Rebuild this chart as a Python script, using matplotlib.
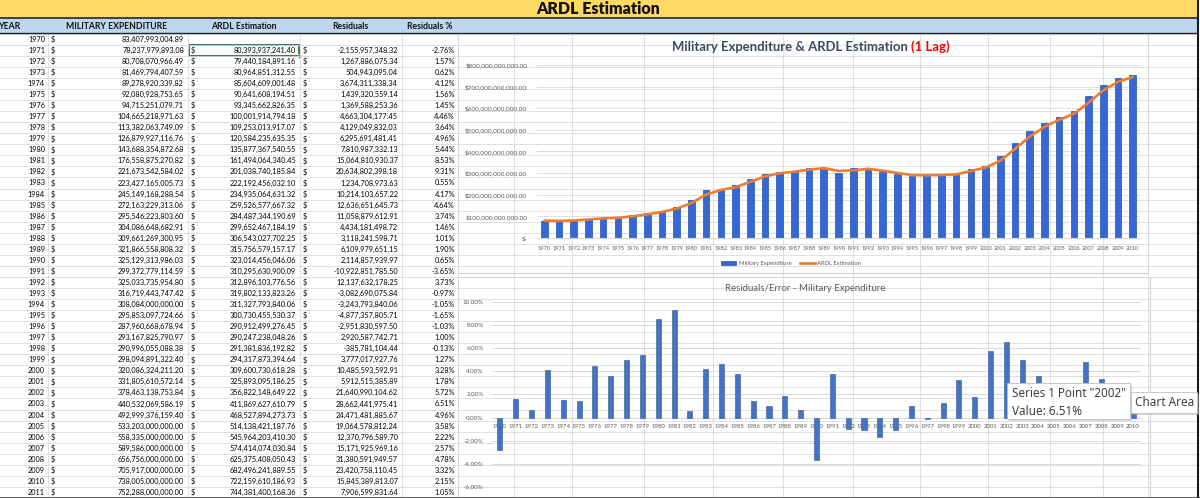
import matplotlib
matplotlib.use('Agg')
import matplotlib.pyplot as plt
from matplotlib.patches import Rectangle
from matplotlib.lines import Line2D
from matplotlib.ticker import FuncFormatter, MultipleLocator

plt.rcParams['font.family'] = ['Lato', 'DejaVu Sans']

# ---- data (read from the sheet) ----
years = [1970, 1971, 1972, 1973, 1974, 1975, 1976, 1977, 1978, 1979,
         1980, 1981, 1982, 1983, 1984, 1985, 1986, 1987, 1988, 1989,
         1990, 1991, 1992, 1993, 1994, 1995, 1996, 1997, 1998, 1999,
         2000, 2001, 2002, 2003, 2004, 2005, 2006, 2007, 2008, 2009,
         2010, 2011]

military = [83407993004.89, 78237979893.08, 80708070966.49, 81469794407.59,
            89278920339.82, 92080928753.65, 94715251079.71, 104665218971.63,
            113382063749.09, 126879927116.76, 143688354872.68, 176558875270.82,
            221673542584.02, 223427165005.73, 245149168288.54, 272163229313.06,
            295546223803.60, 304086648682.91, 309661269300.95, 321866558808.32,
            325129313986.03, 299372779114.59, 325033735954.80, 316719443747.42,
            308084000000.00, 295853097724.66, 287960668678.94, 293167825790.97,
            290996055088.38, 298094891322.40, 320086324211.20, 331805610572.14,
            378463138753.84, 440532069586.19, 492999376159.40, 533203000000.00,
            558335000000.00, 589586000000.00, 656756000000.00, 705917000000.00,
            738005000000.00, 752288000000.00]

# ARDL estimation, residuals, residual % start in 1971
ardl = [80393937241.40, 79440184891.16, 80964851312.55, 85604609001.48,
        90641608194.51, 93345662826.35, 100001914794.18, 109253013917.07,
        120584235635.35, 135877367540.55, 161494064340.45, 201038740185.84,
        222192456032.10, 234935064631.32, 259526577667.32, 284487344190.69,
        299652467184.19, 306543027702.25, 315756579157.17, 323014456046.06,
        310295630900.09, 312896103776.56, 319802133823.26, 311327793840.06,
        300730455530.37, 290912499276.45, 290247238048.26, 291381836192.82,
        294317873394.64, 309600730618.28, 325893095186.25, 356822148649.22,
        411869627610.79, 468527894273.73, 514138421187.76, 545964203410.30,
        574414074030.84, 625375408050.43, 682496241889.55, 722159610186.93,
        744381400168.36]

residuals = [-2155957348.32, 1267886075.34, 504943095.04, 3674311338.34,
             1439320559.14, 1369588253.36, 4663304177.45, 4129049832.03,
             6295691481.41, 7810987332.13, 15064810930.37, 20634802398.18,
             1234708973.63, 10214103657.22, 12636651645.73, 11058879612.91,
             4434181498.72, 3118241598.71, 6109979651.15, 2114857939.97,
             -10922851785.50, 12137632178.25, -3082690075.84, -3243793840.06,
             -4877357805.71, -2951830597.50, 2920587742.71, -385781104.44,
             3777017927.76, 10485593592.91, 5912515385.89, 21640990104.62,
             28662441975.41, 24471481885.67, 19064578812.24, 12370796589.70,
             15171925969.16, 31380591949.57, 23420758110.45, 15845389813.07,
             7906599831.64]

residuals_pct = [-2.76, 1.57, 0.62, 4.12, 1.56, 1.45, 4.46, 3.64, 4.96, 5.44,
                 8.53, 9.31, 0.55, 4.17, 4.64, 3.74, 1.46, 1.01, 1.90, 0.65,
                 -3.65, 3.73, -0.97, -1.05, -1.65, -1.03, 1.00, -0.13, 1.27, 3.28,
                 1.78, 5.72, 6.51, 4.96, 3.58, 2.22, 2.57, 4.78, 3.32, 2.15, 1.05]

# the charts label the 1971-2011 rows as 1970-2010
chart_labels = [str(y) for y in years[:-1]]

W, H = 1200, 498
fig = plt.figure(figsize=(12, 4.98), dpi=100)
bg = fig.add_axes([0, 0, 1, 1])
bg.set_xlim(0, W)
bg.set_ylim(H, 0)
bg.axis('off')
renderer = fig.canvas.get_renderer()


def px_axes(l, t, r, b):
    return fig.add_axes([l / W, 1 - b / H, (r - l) / W, (b - t) / H])


def fit_size(sample, width_px, **kw):
    # font size that makes `sample` about width_px wide
    t = bg.text(0, 0, sample, fontsize=10, **kw)
    w = t.get_window_extent(renderer=renderer).width
    t.remove()
    return 10 * width_px / w


# ---- spreadsheet background ----
ROW_TOP, ROW_H = 33.8, 11.05
GRID = '#DADADA'
for k in range(len(years) + 1):
    y = ROW_TOP + k * ROW_H
    bg.plot([0, 1197], [y, y], color=GRID, lw=0.6)
for x in [48, 188, 300, 402, 458, 514, 572, 644, 713, 783, 853, 920, 988,
          1050, 1103, 1148]:
    bg.plot([x, x], [32.5, H], color=GRID, lw=0.6)

bg.add_patch(Rectangle((0, 0), 1197, 17.5, fc='#FFD966', ec='none'))
bg.add_patch(Rectangle((0, 18), 1197, 14.5, fc='#BDD7EE', ec='none'))
bg.plot([0, 1197], [17.8, 17.8], color='#262626', lw=1.2)
bg.plot([0, 1197], [32.5, 32.5], color='#262626', lw=1.0)
bg.plot([1197.8, 1197.8], [0, H], color='#1a1a1a', lw=1.5)
bg.plot([0, W], [497.5, 497.5], color='#404040', lw=1.2)

fs_title = fit_size('ARDL Estimation', 124, fontweight='heavy')
bg.text(598, 9, 'ARDL Estimation', fontsize=fs_title, fontweight='heavy',
        ha='center', va='center', color='#111111')
fs_hdr = fit_size('MILITARY EXPENDITURE', 101, fontweight='bold')
hdr = dict(fontsize=fs_hdr, fontweight='bold', va='center', color='#111111')
bg.text(20, 26, 'YEAR', ha='right', **hdr)
bg.text(117, 26, 'MILITARY EXPENDITURE', ha='center', **hdr)
bg.text(244, 26, 'ARDL Estimation', ha='center', **hdr)
bg.text(350, 26, 'Residuals', ha='center', **hdr)
bg.text(430, 26, 'Residuals %', ha='center', **hdr)

fs_cell = fit_size('83,407,993,004.89', 62)
cell = dict(fontsize=fs_cell, va='center', color='#000000')
for i, yr in enumerate(years):
    yc = ROW_TOP + (i + 0.5) * ROW_H
    bg.text(45, yc, str(yr), ha='right', **cell)
    bg.text(51, yc, '$', ha='left', **cell)
    bg.text(184, yc, f'{military[i]:,.2f}', ha='right', **cell)
    if i > 0:
        j = i - 1
        bg.text(191, yc, '$', ha='left', **cell)
        bg.text(296, yc, f'{ardl[j]:,.2f}', ha='right', **cell)
        bg.text(303, yc, '$', ha='left', **cell)
        bg.text(398, yc, f'{residuals[j]:,.2f}', ha='right', **cell)
        bg.text(455, yc, f'{residuals_pct[j]:.2f}%', ha='right', **cell)

# selected cell
sel_top = ROW_TOP + ROW_H
bg.add_patch(Rectangle((188.5, sel_top), 110.5, ROW_H, fc='none', ec='#217346', lw=1.3))
bg.add_patch(Rectangle((297.5, sel_top + ROW_H - 1.5), 3.5, 3.5, fc='#217346', ec='white', lw=0.4))

# chart areas
bg.add_patch(Rectangle((458, 32.5), 690, 240, fc='white', ec='#D0D0D0', lw=0.8))
bg.add_patch(Rectangle((458, 276.5), 692, 230, fc='white', ec='#D0D0D0', lw=0.8))

# ---- top chart ----
ax1 = px_axes(537, 65, 1140, 238)
ax1.set_facecolor('none')
xs = list(range(len(chart_labels)))
ax1.bar(xs, military[1:], width=0.45, color='#3568D4', edgecolor='#1F4FB5',
        lw=0.5, zorder=2)
ax1.plot(xs, ardl, color='#ED7D31', lw=1.9, zorder=3, solid_capstyle='round')
ax1.set_xlim(-0.5, len(xs) - 0.5)
ax1.set_ylim(0, 800e9)
ax1.yaxis.set_major_locator(MultipleLocator(100e9))
ax1.yaxis.set_major_formatter(FuncFormatter(lambda v, p: '$-' if v == 0 else f'${v:,.2f}'))
ax1.set_xticks(xs)
ax1.set_xticklabels(chart_labels)
ax1.grid(axis='y', color='#D9D9D9', lw=0.6, zorder=0)
ax1.set_axisbelow(True)
for s in ['top', 'right', 'left']:
    ax1.spines[s].set_visible(False)
ax1.spines['bottom'].set_color('#D9D9D9')
fs_ylab1 = fit_size('$800,000,000,000.00', 61)
fs_xlab1 = fit_size('1970', 13.2)
ax1.tick_params(axis='both', length=0, colors='#595959')
ax1.tick_params(axis='y', pad=7, labelsize=fs_ylab1)
ax1.tick_params(axis='x', pad=5.5, labelsize=fs_xlab1)

title_a = 'Military Expenditure & ARDL Estimation '
fs_t1 = fit_size(title_a + '(1 Lag)', 278, fontweight='bold')
t1 = bg.text(672, 47, title_a, fontsize=fs_t1, fontweight='bold',
             color='#3B4A5E', ha='left', va='center')
bb = t1.get_window_extent(renderer=renderer)
x_end = bg.transData.inverted().transform((bb.x1, bb.y0))[0]
bg.text(x_end, 47, '(1 Lag)', fontsize=fs_t1, fontweight='bold', color='#FF0000',
        ha='left', va='center')

fs_leg = fit_size('Military Expenditure', 53)
leg_handles = [Rectangle((0, 0), 1, 1, fc='#3568D4', ec='#1F4FB5', lw=0.5),
               Line2D([0], [0], color='#ED7D31', lw=1.9)]
ax1.legend(leg_handles, ['Military Expenditure', 'ARDL Estimation'], loc='center',
           bbox_to_anchor=(791 / W, 1 - 263.5 / H), bbox_transform=fig.transFigure,
           ncol=2, frameon=False, fontsize=fs_leg, handlelength=2.6, handleheight=0.5,
           handletextpad=0.4, columnspacing=1.4, labelcolor='#595959')

# ---- bottom chart ----
ax2 = px_axes(492, 302, 1141, 487)
ax2.set_facecolor('none')
ax2.bar(xs, residuals_pct, width=0.32, color='#4472C4', edgecolor='#2F5597',
        lw=0.4, zorder=3)
ax2.set_xlim(-0.5, len(xs) - 0.5)
ax2.set_ylim(-6, 10)
ax2.yaxis.set_major_locator(MultipleLocator(2))
ax2.yaxis.set_major_formatter(FuncFormatter(lambda v, p: f'{v:.2f}%'))
ax2.set_xticks(xs)
ax2.set_xticklabels(chart_labels)
ax2.grid(axis='y', color='#D9D9D9', lw=0.7, zorder=0)
ax2.set_axisbelow(True)
for s in ['top', 'right', 'left']:
    ax2.spines[s].set_visible(False)
ax2.spines['bottom'].set_position(('data', 0))
ax2.spines['bottom'].set_color('#D9D9D9')
fs_ylab2 = fit_size('10.00%', 21)
fs_xlab2 = fit_size('1970', 13.8)
ax2.tick_params(axis='both', length=0, colors='#595959')
ax2.tick_params(axis='y', pad=6, labelsize=fs_ylab2)
ax2.tick_params(axis='x', pad=4.5, labelsize=fs_xlab2)

fs_t2 = fit_size('Residuals/Error - Military Expenditure', 160)
bg.text(805, 288, 'Residuals/Error - Military Expenditure', fontsize=fs_t2,
        color='#595959', ha='center', va='center')

# ---- hover tooltips ----
tip = dict(transform=bg.transData)
tip_font = ['Noto Sans', 'DejaVu Sans']
fs_tip = fit_size('Series 1 Point "2002"', 114, family=tip_font)
fig.add_artist(Rectangle((1009, 385), 123, 36, fc='#B0B0B0', ec='none', alpha=0.5, zorder=5, **tip))
fig.add_artist(Rectangle((1007, 383), 123, 36, fc='white', ec='#BFBFBF', lw=0.6, zorder=6, **tip))
fig.text(1012, 393, 'Series 1 Point "2002"', fontsize=fs_tip, color='#404040',
         va='center', ha='left', family=tip_font, zorder=7, **tip)
fig.text(1012, 411, 'Value: 6.51%', fontsize=fs_tip, color='#404040',
         va='center', ha='left', family=tip_font, zorder=7, **tip)
fig.add_artist(Rectangle((1133, 394), 66, 21, fc='#B0B0B0', ec='none', alpha=0.5, zorder=5, **tip))
fig.add_artist(Rectangle((1131, 392), 66, 21, fc='white', ec='#BFBFBF', lw=0.6, zorder=6, **tip))
fig.text(1135, 402.5, 'Chart Area', fontsize=fs_tip, color='#404040',
         va='center', ha='left', family=tip_font, zorder=7, **tip)

fig.savefig('out.png', dpi=100)
